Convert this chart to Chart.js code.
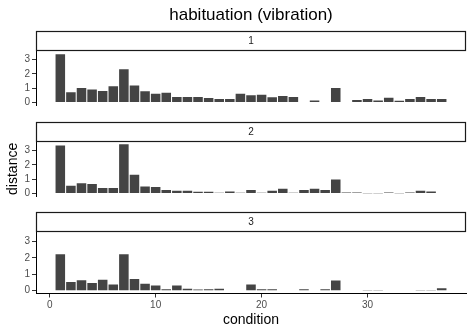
<!DOCTYPE html>
<html><head><meta charset="utf-8">
<script src="https://cdn.jsdelivr.net/npm/chart.js@4/dist/chart.umd.min.js"></script>
<style>
html,body{margin:0;padding:0;background:#fff;width:474px;height:335px;overflow:hidden;}
canvas{position:absolute;left:0;}
</style></head><body>
<canvas id="c1" width="474" height="113" style="top:0px"></canvas>
<canvas id="c2" width="474" height="83" style="top:121px"></canvas>
<canvas id="c3" width="474" height="124" style="top:211px"></canvas>
<script>
const chartTitle = 'habituation (vibration)';
const xTitle = 'condition';
const yTitle = 'distance';
const panelLabels = ['1', '2', '3'];
const conditions = [1,2,3,4,5,6,7,8,9,10,11,12,13,14,15,16,17,18,19,20,21,22,23,24,25,26,27,28,29,30,31,32,33,34,35,36,37];
const distance1 = [3.37,0.71,1.02,0.90,0.80,1.13,2.32,1.19,0.79,0.61,0.68,0.39,0.39,0.39,0.31,0.24,0.24,0.61,0.50,0.55,0.37,0.45,0.39,0.03,0.14,0.03,1.01,0.03,0.18,0.24,0.14,0.33,0.12,0.24,0.39,0.24,0.24];
const distance2 = [3.35,0.55,0.72,0.67,0.39,0.39,3.44,1.31,0.49,0.45,0.25,0.19,0.19,0.13,0.13,0.06,0.14,0.06,0.24,0.06,0.20,0.33,0.06,0.25,0.33,0.25,0.97,0.08,0.08,0.02,0.02,0.07,0.02,0.07,0.20,0.14,null];
const distance3 = [2.22,0.53,0.63,0.47,0.66,0.37,2.22,0.72,0.43,0.31,0.08,0.31,0.12,0.07,0.08,0.12,0.02,0.03,0.38,0.08,0.08,0.03,0.03,0.08,null,0.08,0.62,0.03,0.03,0.04,0.04,null,0.02,null,0.04,0.04,0.15];
const yTicks = [0, 1, 2, 3];
const xTicks = [0, 10, 20, 30];

const FONT = "'Liberation Sans', Arial, Helvetica, sans-serif";
const BAR = '#444444';
const STRIP_H = 20;

const stripPlugin = {
  id: 'strip',
  afterDraw(chart, args, o) {
    const {ctx, chartArea: a} = chart;
    const top = a.top - STRIP_H;
    ctx.save();
    ctx.fillStyle = '#ffffff';
    ctx.fillRect(a.left, top, a.right - a.left, STRIP_H);
    ctx.strokeStyle = '#1a1a1a';
    ctx.lineWidth = 1.2;
    ctx.strokeRect(Math.round(a.left) + 0.5, Math.round(top) + 0.5, Math.round(a.right - a.left) - 1, STRIP_H - 1);
    ctx.fillStyle = '#1a1a1a';
    ctx.font = '10px ' + FONT;
    ctx.textAlign = 'center';
    ctx.textBaseline = 'middle';
    ctx.fillText(o.text, (a.left + a.right) / 2, top + STRIP_H / 2 + 0.5);
    ctx.restore();
  }
};

function makeChart(id, values, label, opts) {
  const points = conditions.map((c, i) => ({x: c, y: values[i]})).filter(p => p.y !== null);
  return new Chart(document.getElementById(id), {
    type: 'bar',
    data: {datasets: [{label: 'distance', data: points, backgroundColor: BAR, borderWidth: 0,
      categoryPercentage: 1, barPercentage: 0.9}]},
    options: {
      responsive: false, animation: false, devicePixelRatio: 1,
      layout: {padding: {top: opts.padTop, bottom: opts.padBottom, left: 0, right: 8}},
      plugins: {
        legend: {display: false}, tooltip: {enabled: false},
        title: opts.title ? {display: true, fullSize: false, text: chartTitle, color: '#000',
          font: {family: FONT, size: 17, weight: 'normal'}, padding: {top: 4.8, bottom: 25.5}} : {display: false},
        strip: {text: label}
      },
      scales: {
        x: {
          type: 'linear', min: -1.295, max: 39.295, offset: false, display: opts.showX,
          afterBuildTicks: s => { s.ticks = xTicks.map(v => ({value: v})); },
          afterFit: s => { if (opts.showX) s.height = 41.5; },
          border: {display: true, color: '#000', width: 1},
          grid: {display: true, drawOnChartArea: false, drawTicks: true, tickLength: 4, color: '#333', offset: false},
          ticks: {color: '#4d4d4d', font: {family: FONT, size: 10}, padding: 2, maxRotation: 0},
          title: {display: true, text: xTitle, color: '#000', font: {family: FONT, size: 14}, padding: {top: 0, bottom: 6}}
        },
        y: {
          min: -0.172, max: 3.612,
          afterBuildTicks: s => { s.ticks = yTicks.map(v => ({value: v})); },
          afterFit: s => { s.width = 36; },
          border: {display: true, color: '#000', width: 1},
          grid: {display: true, drawOnChartArea: false, drawTicks: true, tickLength: 4, color: '#333'},
          ticks: {color: '#4d4d4d', font: {family: FONT, size: 10}, padding: 2},
          title: {display: opts.showYTitle, text: yTitle, color: '#000', font: {family: FONT, size: 14}, padding: {top: 4.6, bottom: 0}}
        }
      }
    },
    plugins: [stripPlugin]
  });
}

makeChart('c1', distance1, panelLabels[0], {padTop: 0, padBottom: 0.5, title: true, showX: false, showYTitle: false});
makeChart('c2', distance2, panelLabels[1], {padTop: 20.7, padBottom: 0.5, title: false, showX: false, showYTitle: true});
makeChart('c3', distance3, panelLabels[2], {padTop: 20.5, padBottom: 0, title: false, showX: true, showYTitle: false});
</script>
</body></html>
